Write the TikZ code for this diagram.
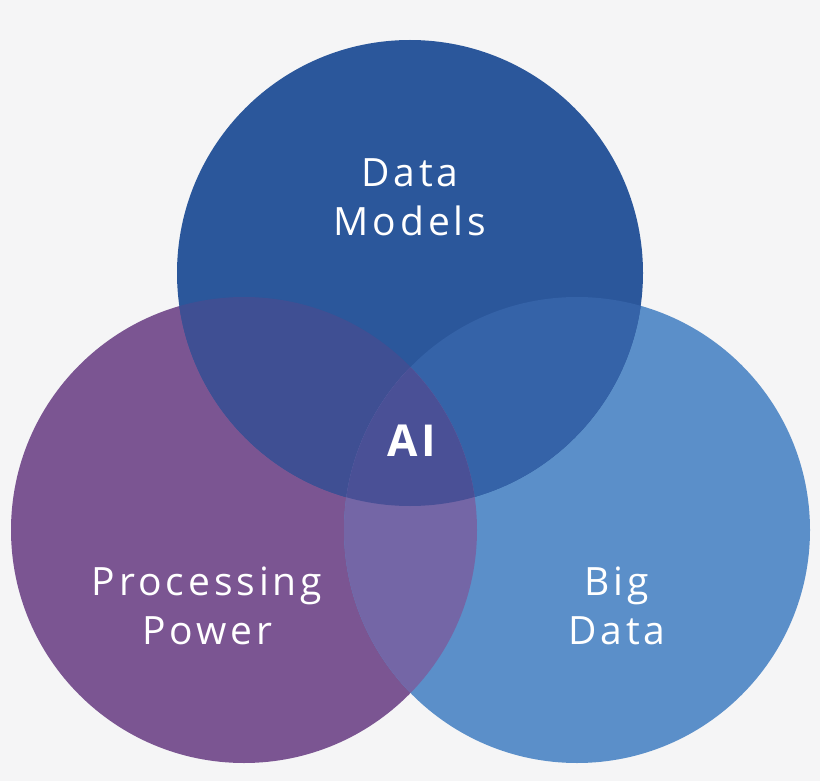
\documentclass[tikz,border=0pt]{standalone}
\usepackage{fontspec}
\setmainfont{Open Sans}
\definecolor{bg}{RGB}{245,245,246}
\definecolor{ctop}{RGB}{43,87,155}
\definecolor{cleft}{RGB}{123,85,146}
\definecolor{cright}{RGB}{91,143,201}
\definecolor{ctl}{RGB}{63,79,147}
\definecolor{ctr}{RGB}{53,99,168}
\definecolor{clr}{RGB}{116,102,166}
\definecolor{cmid}{RGB}{74,80,150}
\begin{document}
\begin{tikzpicture}[x=1pt,y=-1pt,
  lbl/.style={text=white,font=\fontsize{39}{49}\selectfont\addfontfeature{LetterSpace=10},align=center}]
\fill[bg] (0,0) rectangle (820,781);
\useasboundingbox (0,0) rectangle (820,781);
\def\R{233}
\coordinate (T) at (410,273);
\coordinate (L) at (244,530);
\coordinate (Rc) at (577,530);
\fill[cleft] (L) circle (\R);
\fill[cright] (Rc) circle (\R);
\fill[ctop] (T) circle (\R);
\begin{scope}\clip (T) circle (\R); \fill[ctl] (L) circle (\R);\end{scope}
\begin{scope}\clip (T) circle (\R); \fill[ctr] (Rc) circle (\R);\end{scope}
\begin{scope}\clip (L) circle (\R); \fill[clr] (Rc) circle (\R);\end{scope}
\begin{scope}\clip (T) circle (\R); \clip (L) circle (\R); \fill[cmid] (Rc) circle (\R);\end{scope}
\node[lbl] (dm) at (410,197) {Data\\Models};
\node[lbl] (pp) at (207,606) {Processing\\Power};
\node[lbl] (bd) at (617,606) {Big\\Data};
\node[text=white,font=\fontsize{44}{50}\selectfont\bfseries\addfontfeature{LetterSpace=8}] (ai) at (412,441) {AI};
\end{tikzpicture}
\end{document}
